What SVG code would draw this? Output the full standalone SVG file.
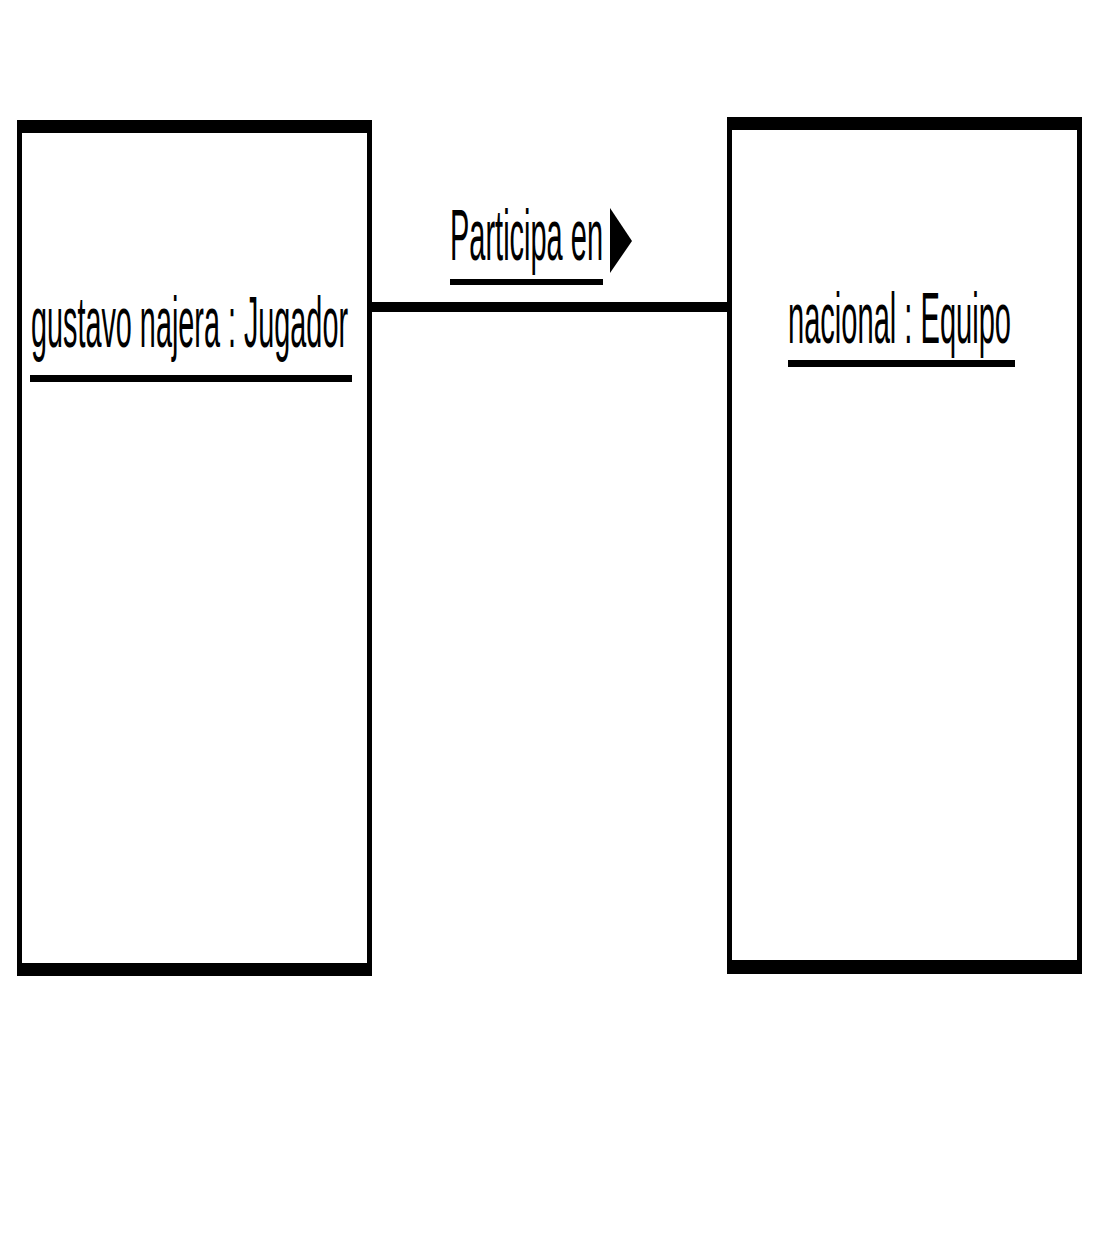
<svg xmlns="http://www.w3.org/2000/svg" width="1113" height="1256" viewBox="0 0 1113 1256">
<style>
.box{fill:#fff;stroke:#000;stroke-width:5}
.bar{fill:#000}
.lbl{font-family:"Liberation Sans",Arial,sans-serif;font-size:72px;fill:#000}
</style>
<rect width="1113" height="1256" fill="#fff"/>
<g id="connectors">
<line x1="371" y1="307" x2="728" y2="307" stroke="#000" stroke-width="10"/>
<g id="assoc-label">
<text class="lbl" transform="translate(450,260) scale(0.4,1)" textLength="382.5" lengthAdjust="spacingAndGlyphs">Participa en</text>
<rect class="bar" x="450" y="279" width="153" height="6"/>
<polygon points="610,208 632,241 610,273" fill="#000"/>
</g>
</g>
<g id="jugador">
<rect class="box" x="19.5" y="124" width="350" height="848"/>
<rect class="bar" x="17" y="120" width="355" height="13"/>
<rect class="bar" x="17" y="963" width="355" height="13"/>
<text class="lbl" transform="translate(31,347) scale(0.4,1)" textLength="792.5" lengthAdjust="spacingAndGlyphs">gustavo najera : Jugador</text>
<rect class="bar" x="30" y="375" width="322" height="7"/>
</g>
<g id="equipo">
<rect class="box" x="729.5" y="122" width="350" height="846"/>
<rect class="bar" x="727" y="117" width="355" height="13"/>
<rect class="bar" x="727" y="960" width="355" height="14"/>
<text class="lbl" transform="translate(788,343) scale(0.4,1)" textLength="557.5" lengthAdjust="spacingAndGlyphs">nacional : Equipo</text>
<rect class="bar" x="788" y="360" width="227" height="7"/>
</g>
</svg>
